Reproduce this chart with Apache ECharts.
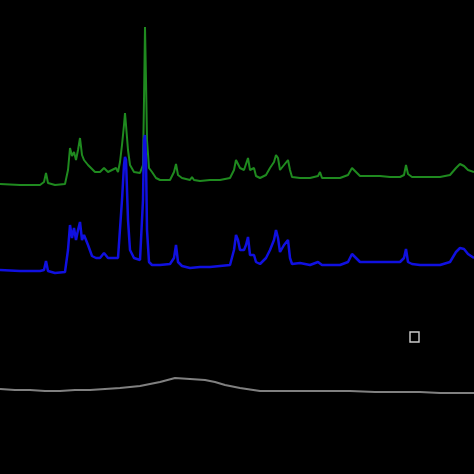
<!DOCTYPE html>
<html>
<head>
<meta charset="utf-8">
<script src="https://cdn.jsdelivr.net/npm/echarts@6/dist/echarts.min.js"></script>
<style>html,body{margin:0;padding:0;background:#000}#main{width:474px;height:474px}</style>
</head>
<body>
<div id="main"></div>
<script>
var greenTrace = [[0,184],[20,185],[40,185],[44,182],[46,173],[48,183],[55,185],[65,184],[68,170],[70,148],[72,156],[74,152],[76,160],[78,150],[80,138],[82,155],[84,160],[88,165],[95,172],[100,172],[104,168],[108,172],[112,170],[116,168],[118,172],[120,162],[122,145],[124,125],[125,113],[126,125],[128,150],[130,165],[134,172],[140,173],[143,165],[144,100],[145,27],[146,80],[147,140],[149,168],[152,172],[156,178],[160,180],[170,180],[174,172],[176,164],[178,175],[182,178],[190,180],[192,177],[194,180],[200,181],[210,180],[220,180],[230,178],[234,170],[236,160],[238,158],[240,168],[244,170],[246,164],[248,158],[250,170],[254,168],[256,176],[260,178],[266,175],[270,168],[274,162],[276,155],[278,158],[280,170],[284,165],[288,160],[290,170],[292,177],[300,178],[310,178],[318,176],[320,172],[322,178],[330,178],[340,178],[348,175],[352,168],[354,166],[356,172],[360,176],[370,176],[380,176],[390,177],[400,177],[404,175],[406,165],[408,174],[412,177],[420,177],[430,177],[440,177],[450,175],[456,168],[460,164],[464,166],[468,170],[474,172]];
var blueTrace = [[0,270],[20,271],[40,271],[44,270],[46,261],[48,271],[55,273],[65,272],[68,250],[70,225],[72,238],[74,228],[76,240],[78,230],[80,222],[82,240],[84,235],[86,240],[88,245],[92,256],[96,258],[100,258],[104,253],[108,258],[112,258],[118,258],[122,200],[124,165],[125,157],[126,160],[128,220],[130,250],[134,258],[140,260],[143,200],[144,140],[145,135],[146,160],[147,230],[149,262],[152,265],[160,265],[170,264],[174,258],[176,245],[178,262],[182,266],[190,268],[200,267],[210,267],[220,266],[230,265],[234,250],[236,235],[238,240],[240,250],[244,250],[246,245],[248,237],[250,255],[254,255],[256,262],[260,264],[266,258],[270,250],[274,240],[276,230],[278,238],[280,252],[284,245],[288,240],[290,258],[292,264],[300,263],[310,265],[318,262],[320,260],[322,265],[330,265],[340,265],[348,262],[352,254],[354,252],[356,258],[360,262],[370,262],[380,262],[390,262],[400,262],[404,258],[406,249],[408,262],[412,264],[420,265],[430,265],[440,265],[450,262],[456,252],[460,248],[464,249],[468,254],[474,258]];
var grayTrace = [[0,389],[15,390],[30,390],[45,391],[60,391],[75,390],[90,390],[105,389],[120,388],[140,386],[160,382],[175,378],[190,379],[205,380],[215,382],[225,385],[240,388],[260,391],[280,391],[300,391],[325,391],[350,391],[375,392],[400,392],[420,392],[440,393],[474,393]];
var marker = [[414.5,337]];

var myChart = echarts.init(document.getElementById('main'));
var option = {
  backgroundColor: '#000',
  animation: false,
  grid: {left: 0, right: 0, top: 0, bottom: 0},
  xAxis: {type: 'value', min: 0, max: 474, show: false},
  yAxis: {type: 'value', min: 0, max: 474, inverse: true, show: false},
  series: [
    {type: 'line', data: greenTrace, showSymbol: false, lineStyle: {color: '#1f8a1f', width: 2}},
    {type: 'line', data: blueTrace, showSymbol: false, lineStyle: {color: '#1010e0', width: 2.5}},
    {type: 'line', data: grayTrace, showSymbol: false, lineStyle: {color: '#808080', width: 2}},
    {type: 'scatter', data: marker, symbol: 'rect', symbolSize: [9, 10],
      itemStyle: {color: 'rgba(0,0,0,0)', borderColor: '#fff', borderWidth: 1.5}}
  ]
};
myChart.setOption(option);
</script>
</body>
</html>
